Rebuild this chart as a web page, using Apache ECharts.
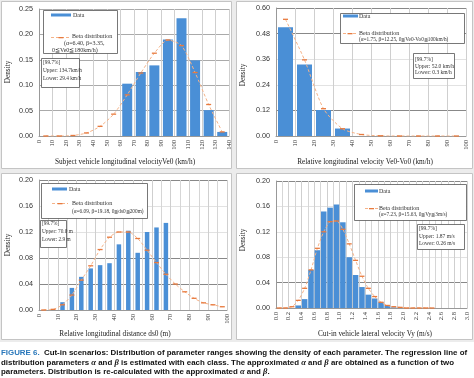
<!DOCTYPE html>
<html><head><meta charset="utf-8">
<script src="https://cdn.jsdelivr.net/npm/echarts@6/dist/echarts.min.js"></script>
<style>html,body{margin:0;padding:0;background:#fff}#c{width:474px;height:378px}</style>
</head><body><div id="c"></div>
<script>
// ---------- data ----------
const p1Bins = [65, 75, 85, 95, 105, 115, 125, 135];
const p1Density = [0.103, 0.126, 0.139, 0.190, 0.232, 0.149, 0.051, 0.008];
const p1BetaX = [5, 15, 25, 35, 45, 55, 65, 75, 85, 95, 105, 115, 125, 135];
const p1Beta = [0.000, 0.000, 0.001, 0.006, 0.019, 0.043, 0.081, 0.124, 0.163, 0.189, 0.178, 0.125, 0.062, 0.008];

const p2Bins = [5, 15, 25, 35];
const p2Density = [0.510, 0.335, 0.122, 0.035];
const p2BetaX = [5, 15, 25, 35, 45, 55, 65, 75, 85, 95];
const p2Beta = [0.547, 0.357, 0.128, 0.034, 0.007, 0.001, 0.000, 0.000, 0.000, 0.000];

const p3Bins = [12.5, 17.5, 22.5, 27.5, 32.5, 37.5, 42.5, 47.5, 52.5, 57.5, 62.5, 67.5];
const p3Density = [0.012, 0.034, 0.051, 0.064, 0.069, 0.072, 0.101, 0.122, 0.088, 0.120, 0.127, 0.134];
const p3BetaX = [2.5, 7.5, 12.5, 17.5, 22.5, 27.5, 32.5, 37.5, 42.5, 47.5, 52.5, 57.5, 62.5, 67.5, 72.5, 77.5, 82.5, 87.5, 92.5, 97.5];
const p3Beta = [0.000, 0.001, 0.008, 0.023, 0.046, 0.068, 0.093, 0.112, 0.120, 0.120, 0.110, 0.092, 0.073, 0.055, 0.040, 0.028, 0.018, 0.011, 0.008, 0.005];

const p4Bins = [0.35, 0.45, 0.55, 0.65, 0.75, 0.85, 0.95, 1.05, 1.15, 1.25, 1.35, 1.45, 1.55, 1.65, 1.75, 1.85];
const p4Density = [0.004, 0.014, 0.060, 0.091, 0.152, 0.158, 0.163, 0.135, 0.080, 0.052, 0.033, 0.021, 0.015, 0.009, 0.004, 0.001];
const p4BetaX = [0.05, 0.15, 0.25, 0.35, 0.45, 0.55, 0.65, 0.75, 0.85, 0.95, 1.05, 1.15, 1.25, 1.35, 1.45, 1.55, 1.65, 1.75, 1.85, 1.95, 2.05, 2.15, 2.25, 2.35, 2.45];
const p4Beta = [0.000, 0.000, 0.002, 0.012, 0.031, 0.060, 0.094, 0.120, 0.136, 0.137, 0.124, 0.101, 0.075, 0.050, 0.031, 0.018, 0.009, 0.004, 0.002, 0.001, 0.000, 0.000, 0.000, 0.000, 0.000];

const xTitles = ['Subject vehicle longitudinal velocityVe0 (km/h)', 'Relative longitudinal velocity Ve0-Vo0 (km/h)', 'Relative longitudinal distance ds0 (m)', 'Cut-in vehicle lateral velocity Vy (m/s)'];
const legendData = 'Data';
const legendBeta = 'Beta distribution';
const betaParams = ['(\u03b1=6.40, \u03b2=3.35,', '(\u03b1=1.75, \u03b2=12.25, 0\u2266Ve0-Vo0\u2266100km/h)', '(\u03b1=6.09, \u03b2=19.18, 0\u2266ds0\u2266200m)', '(\u03b1=7.23, \u03b2=15.63, 0\u2266Vy\u22663m/s)'];
const betaParams1b = '0\u2266Ve0\u2266180km/h)';
const stats = [
  ['[99.7%]', 'Upper: 134.7km/h', 'Lower: 29.4 km/h'],
  ['[99.7%]', 'Upper: 52.0 km/h', 'Lower: 0.3 km/h'],
  ['[99.7%]', 'Upper: 70.0 m', 'Lower: 2.9 m'],
  ['[99.7%]', 'Upper: 1.87 m/s', 'Lower: 0.26 m/s']
];

// ---------- styles ----------
const BAR = '#4a8fd6';
const LINE = '#f5b287';
const MARK = '#e87a3e';
const SERIF = 'Liberation Serif';
const SANS = 'Liberation Sans';

const zip = (xs, ys) => xs.map((x, i) => [x, ys[i]]);

const grids = [
  {left: 39, top: 9, width: 190, height: 127},
  {left: 276, top: 8, width: 190, height: 128},
  {left: 39, top: 180, width: 188, height: 130},
  {left: 276, top: 181, width: 191, height: 127}
];

function xAxis(i, max, interval, minor, dec) {
  return {
    type: 'value', gridIndex: i, min: 0, max: max, interval: interval,
    axisLine: {show: true, lineStyle: {color: '#999', width: 1}},
    axisTick: {show: false},
    axisLabel: {rotate: 90, fontFamily: SERIF, fontSize: 6.5, color: '#333', margin: 4,
      formatter: v => v.toFixed(dec)},
    splitLine: {show: true, lineStyle: {color: '#cfcfcf', width: 1}},
    minorTick: {show: false, splitNumber: minor || 1},
    minorSplitLine: {show: !!minor, lineStyle: {color: '#d6d6d6', width: 1}}
  };
}
function yAxis(i, max, interval, colors) {
  return {
    type: 'value', gridIndex: i, min: 0, max: max, interval: interval,
    axisLine: {show: true, lineStyle: {color: '#999', width: 1}},
    axisTick: {show: false},
    axisLabel: {fontFamily: SANS, fontSize: 7.2, color: '#333', margin: 6, formatter: v => v.toFixed(2)},
    splitLine: {show: true, lineStyle: {color: colors, width: 1}}
  };
}
function bars(i, xs, ys, w) {
  return {type: 'bar', xAxisIndex: i, yAxisIndex: i, data: zip(xs, ys), barWidth: w,
    itemStyle: {color: BAR}, z: 2, silent: true};
}
function betaLine(i, xs, ys) {
  return {type: 'line', xAxisIndex: i, yAxisIndex: i, data: zip(xs, ys), smooth: 0.25,
    lineStyle: {color: LINE, width: 1, type: [3, 2]},
    symbol: 'rect', symbolSize: [5, 1.3], itemStyle: {color: MARK}, z: 3, silent: true};
}

// ---------- graphics ----------
const g = [];
g.push({type: 'rect', shape: {x: 0, y: 0, width: 474, height: 342}, style: {fill: '#ececec'}, z: -20, silent: true});
[[1, 1, 230, 167], [236, 1, 236, 167], [1, 173, 230, 166], [236, 173, 236, 166]].forEach(r => {
  g.push({type: 'rect', shape: {x: r[0] + 0.5, y: r[1] + 0.5, width: r[2], height: r[3]},
    style: {fill: '#fff', stroke: '#c4c4c4', lineWidth: 1}, z: -10, silent: true});
});
function txt(x, y, s, opt) {
  opt = opt || {};
  g.push({type: 'text', x: x, y: y, rotation: opt.rot || 0, z: 110, silent: true,
    style: {text: s, fontFamily: opt.ff || SERIF, fontSize: opt.fs || 6, fill: opt.c || '#333',
      fontWeight: opt.fw || 'normal', textAlign: opt.align || 'left', textVerticalAlign: 'middle'}});
}
function box(x, y, w, h) {
  g.push({type: 'rect', shape: {x: x + 0.5, y: y + 0.5, width: w, height: h},
    style: {fill: '#fff', stroke: '#555', lineWidth: 0.8}, z: 100, silent: true});
}
function dataIcon(x1, x2, y) {
  g.push({type: 'rect', shape: {x: x1, y: y - 1.5, width: x2 - x1, height: 3}, style: {fill: BAR}, z: 105, silent: true});
}
function betaIcon(x1, x2, y) {
  g.push({type: 'line', shape: {x1: x1, y1: y + 0.5, x2: x2, y2: y + 0.5}, style: {stroke: LINE, lineWidth: 1, lineDash: [3, 2]}, z: 105, silent: true});
  const m = (x1 + x2) / 2;
  g.push({type: 'rect', shape: {x: m - 2.5, y: y, width: 5, height: 1.3}, style: {fill: MARK}, z: 106, silent: true});
}

// Panel 1 legend / stats
box(43, 10, 74, 43);
dataIcon(51, 71, 15); txt(73, 15, legendData);
betaIcon(51, 71, 37); txt(72, 36, legendBeta);
txt(64, 43.5, betaParams[0]); txt(52, 50.5, betaParams1b);
box(41, 58, 38, 29);
txt(43, 63, stats[0][0], {fs: 5.3}); txt(43, 71, stats[0][1], {fs: 5.3}); txt(43, 79, stats[0][2], {fs: 5.3});

// Panel 2 legend / stats
box(340, 13, 124, 30);
dataIcon(343, 358, 16); txt(359, 16, legendData);
betaIcon(343, 357, 33); txt(359, 33, legendBeta);
txt(359, 40, betaParams[1], {fs: 5.3});
box(413, 53, 41, 25);
txt(415, 60, stats[1][0], {fs: 5.5}); txt(415, 66.5, stats[1][1], {fs: 5.5}); txt(415, 73, stats[1][2], {fs: 5.5});

// Panel 3 legend / stats
box(41, 183, 106, 35);
dataIcon(52, 67, 189); txt(69, 189, legendData);
betaIcon(52, 68, 203); txt(72, 203, legendBeta);
txt(72, 212, betaParams[2], {fs: 5.3});
box(40, 220, 26, 27);
txt(42, 224, stats[2][0], {fs: 5.3}); txt(42, 232, stats[2][1], {fs: 5.3}); txt(42, 240, stats[2][2], {fs: 5.3});

// Panel 4 legend / stats
box(354, 184, 112, 36);
dataIcon(365, 378, 191); txt(379, 191, legendData);
betaIcon(365, 378, 208); txt(379, 208, legendBeta);
txt(379, 215, betaParams[3], {fs: 5.3});
box(417, 224, 47, 25);
txt(419, 229, stats[3][0], {fs: 5.5}); txt(419, 236.5, stats[3][1], {fs: 5.5}); txt(419, 244, stats[3][2], {fs: 5.5});

// axis titles
txt(125, 162, xTitles[0], {fs: 7.3, align: 'center', c: '#222'});
txt(365, 162, xTitles[1], {fs: 7.3, align: 'center', c: '#222'});
txt(115, 334, xTitles[2], {fs: 7.3, align: 'center', c: '#222'});
txt(375, 334, xTitles[3], {fs: 7.3, align: 'center', c: '#222'});
[[8, 72], [243, 75], [8, 245], [243, 240]].forEach(p => txt(p[0], p[1], 'Density', {fs: 7.3, align: 'center', rot: Math.PI / 2, c: '#222'}));

// caption
const capRich = {
  f: {fontFamily: SANS, fontWeight: 'bold', fontSize: 7.9, fill: '#2a78bb'},
  n: {fontFamily: SANS, fontWeight: 'bold', fontSize: 7.9, fill: '#111'},
  i: {fontFamily: SERIF, fontStyle: 'italic', fontWeight: 'bold', fontSize: 8.5, fill: '#111'}
};
const capLines = [
  '{f|FIGURE 6.}{n|  Cut-in scenarios: Distribution of parameter ranges showing the density of each parameter. The regression line of}',
  '{n|distribution parameters }{i|\u03b1}{n| and }{i|\u03b2}{n| is estimated with each class. The approximated }{i|\u03b1}{n| and }{i|\u03b2}{n| are obtained as a function of two}',
  '{n|parameters. Distribution is re-calculated with the approximated }{i|\u03b1}{n| and }{i|\u03b2}{n|.}'
];
capLines.forEach((s, k) => {
  g.push({type: 'text', x: 1, y: 353 + k * 9.5, z: 110, silent: true,
    style: {text: s, rich: capRich, textVerticalAlign: 'middle', fontSize: 7.9, fontFamily: SANS}});
});

const option = {
  animation: false,
  grid: grids,
  xAxis: [xAxis(0, 140, 10, 0, 0), xAxis(1, 100, 10, 0, 0), xAxis(2, 100, 10, 2, 0), xAxis(3, 3, 0.2, 2, 1)],
  yAxis: [
    yAxis(0, 0.25, 0.05, ['#999', '#aaa', '#aaa', '#aaa', '#aaa', '#aaa']),
    yAxis(1, 0.6, 0.12, ['#999', '#888', '#e2e2e2', '#e2e2e2', '#888', '#888']),
    yAxis(2, 0.2, 0.04, ['#999', '#888', '#888', '#e2e2e2', '#e2e2e2', '#888']),
    yAxis(3, 0.2, 0.04, ['#999', '#888', '#e2e2e2', '#e2e2e2', '#e2e2e2', '#888'])
  ],
  series: [
    bars(0, p1Bins, p1Density, 10), betaLine(0, p1BetaX, p1Beta),
    bars(1, p2Bins, p2Density, 15), betaLine(1, p2BetaX, p2Beta),
    bars(2, p3Bins, p3Density, 4.5), betaLine(2, p3BetaX, p3Beta),
    bars(3, p4Bins, p4Density, 5.5), betaLine(3, p4BetaX, p4Beta)
  ],
  graphic: {elements: g}
};
const chart = echarts.init(document.getElementById('c'), null, {renderer: 'canvas'});
chart.setOption(option);
</script></body></html>
